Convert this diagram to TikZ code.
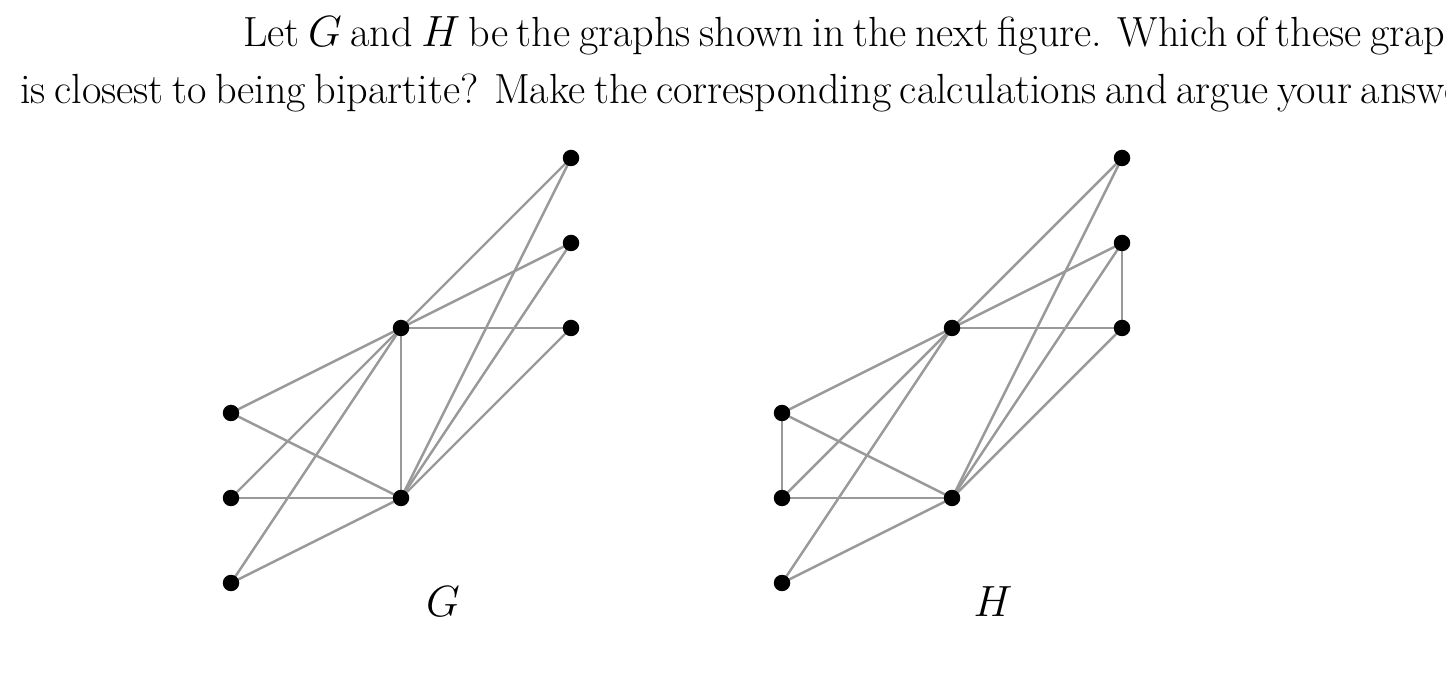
\documentclass[tikz,border=0pt]{standalone}
\begin{document}
\begin{tikzpicture}[x=0.02cm,y=-0.02cm,
  v/.style={circle,fill=black,inner sep=0pt,minimum size=0.33cm},
  e/.style={draw=black!40,line width=1.4pt},
  txt/.style={inner sep=0pt,font=\fontsize{24}{30}\selectfont}]
\useasboundingbox (0,0) rectangle (1446,688);
\node[txt,anchor=base west] (t1) at (243,47) {\makebox[23.54cm][s]{Let $G$ and $H$ be the graphs shown in the next figure. Which of these graphs}};
\node[txt,anchor=base west] (t2) at (20,104) {\makebox[27.56cm][s]{is closest to being bipartite? Make the corresponding calculations and argue your answer.}};
% G
\coordinate (gl1) at (231,413); \coordinate (gl2) at (231,498); \coordinate (gl3) at (231,583);
\coordinate (gc1) at (401,328); \coordinate (gc2) at (401,498);
\coordinate (gr1) at (571,158); \coordinate (gr2) at (571,243); \coordinate (gr3) at (571,328);
\foreach \a/\b in {gc1/gl1,gl1/gc2,gc1/gl2,gl2/gc2,gc1/gl3,gl3/gc2,gc1/gc2,gc1/gr1,gc1/gr2,gc1/gr3,gc2/gr1,gc2/gr2,gc2/gr3}
  \draw[e] (\a) -- (\b);
\foreach \n in {gl1,gl2,gl3,gc1,gc2,gr1,gr2,gr3} \node[v] (v\n) at (\n) {};
\node[txt] (gG) at (443,602) {$G$};
% H
\coordinate (hl1) at (782,413); \coordinate (hl2) at (782,498); \coordinate (hl3) at (782,583);
\coordinate (hc1) at (952,328); \coordinate (hc2) at (952,498);
\coordinate (hr1) at (1122,158); \coordinate (hr2) at (1122,243); \coordinate (hr3) at (1122,328);
\foreach \a/\b in {hc1/hl1,hl1/hc2,hl1/hl2,hc1/hl2,hl2/hc2,hc1/hl3,hl3/hc2,hc1/hr1,hc1/hr2,hc1/hr3,hc2/hr1,hc2/hr2,hc2/hr3,hr2/hr3}
  \draw[e] (\a) -- (\b);
\foreach \n in {hl1,hl2,hl3,hc1,hc2,hr1,hr2,hr3} \node[v] (v\n) at (\n) {};
\node[txt] (hH) at (993,602) {$H$};
\end{tikzpicture}
\end{document}
